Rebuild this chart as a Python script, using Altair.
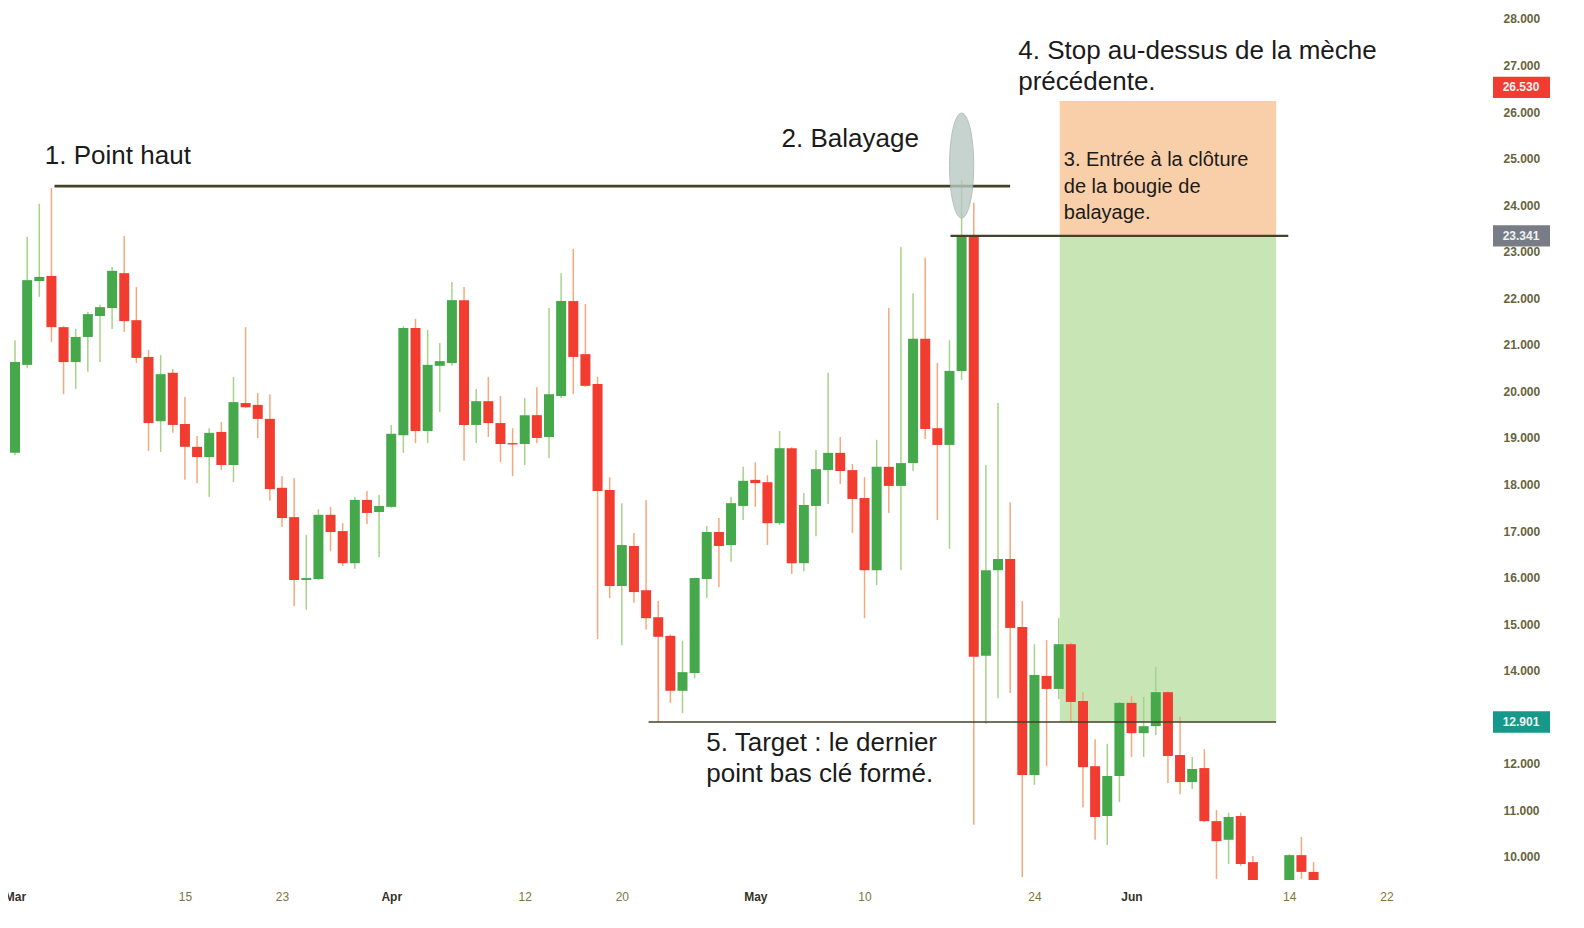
import altair as alt
import pandas as pd

# one candle per calendar day; Jun 12 and Jun 13 sit below the visible price range
days = [d for d in pd.date_range("2022-03-01", "2022-06-16", freq="D")
        if d.strftime("%m-%d") not in ("06-12", "06-13")]

opens = [18.68, 20.57, 22.37, 22.48, 21.38, 20.63, 21.17, 21.62, 21.79, 22.54,
         21.53, 20.74, 19.36, 20.40, 19.30, 18.81, 18.59, 19.13, 18.42, 19.75,
         19.71, 19.41, 17.93, 17.30, 15.95, 15.97, 17.35, 17.00, 16.31, 17.67,
         17.41, 17.52, 19.06, 21.36, 19.15, 20.55, 20.61, 21.96, 19.28, 19.79,
         19.32, 18.89, 18.87, 19.49, 19.02, 19.90, 21.94, 20.80, 20.16, 17.88,
         15.82, 16.68, 15.73, 15.15, 14.75, 13.57, 13.95, 15.97, 16.98, 16.70,
         17.54, 18.10, 18.05, 17.17, 18.78, 16.31, 17.54, 18.31, 18.68, 18.31,
         17.71, 16.16, 18.38, 17.97, 18.46, 21.13, 19.21, 18.85, 20.44, 23.34,
         14.32, 16.16, 16.40, 14.94, 11.76, 13.89, 13.61, 14.57, 13.35, 11.95,
         10.88, 11.74, 13.31, 12.66, 12.81, 13.54, 12.19, 11.61, 11.91, 10.77,
         10.37, 10.88, 9.89, 9.30, 10.04, 9.68]
highs = [21.10, 23.32, 24.03, 24.37, 21.40, 21.34, 21.71, 21.86, 22.67, 23.34,
         22.24, 20.89, 20.78, 20.48, 19.88, 19.04, 19.21, 19.34, 20.31, 21.38,
         19.97, 19.94, 18.18, 18.14, 16.92, 17.47, 17.52, 17.17, 17.73, 17.86,
         17.78, 19.28, 21.40, 21.56, 21.32, 21.04, 22.35, 22.24, 20.05, 20.31,
         19.90, 19.21, 19.86, 20.09, 21.79, 22.54, 23.06, 21.88, 20.31, 18.16,
         17.60, 16.96, 17.67, 15.50, 14.78, 14.64, 16.00, 17.11, 17.28, 17.73,
         18.38, 18.48, 18.20, 19.15, 18.80, 17.82, 18.74, 20.40, 19.02, 18.44,
         18.16, 18.96, 21.79, 23.10, 22.11, 22.87, 20.61, 21.10, 24.54, 24.05,
         18.42, 19.75, 17.62, 15.50, 14.57, 14.66, 15.13, 14.60, 13.54, 12.53,
         12.43, 13.33, 13.46, 13.44, 14.08, 13.56, 13.01, 12.15, 12.32, 11.01,
         10.95, 10.95, 10.02, 10.06, 10.43, 9.89]
lows = [18.63, 20.50, 22.03, 21.06, 19.94, 20.05, 20.42, 20.63, 21.34, 21.28,
        20.61, 18.72, 18.70, 19.11, 18.10, 18.03, 17.73, 18.31, 18.05, 19.64,
        19.00, 17.65, 17.09, 15.39, 15.31, 15.95, 16.57, 16.25, 16.19, 17.15,
        16.44, 17.50, 18.68, 18.89, 18.89, 19.56, 20.55, 18.51, 18.89, 19.02,
        18.48, 18.18, 18.42, 18.89, 18.57, 19.86, 19.94, 20.10, 14.68, 15.56,
        14.55, 15.46, 14.88, 12.90, 13.31, 13.09, 13.84, 15.56, 15.80, 16.34,
        17.24, 17.52, 16.70, 17.13, 16.08, 16.14, 16.89, 17.58, 18.01, 16.96,
        15.13, 15.84, 17.39, 16.16, 18.29, 18.98, 17.24, 16.62, 20.25, 10.69,
        12.86, 13.41, 13.52, 9.57, 11.55, 11.95, 13.39, 12.88, 11.07, 10.37,
        10.26, 11.18, 12.15, 12.15, 12.62, 11.59, 11.35, 11.46, 10.75, 9.53,
        9.85, 9.81, 9.10, 9.20, 9.53, 9.35]
closes = [20.63, 22.39, 22.46, 21.38, 20.63, 21.17, 21.66, 21.81, 22.59, 21.51,
          20.72, 19.32, 20.37, 19.28, 18.81, 18.59, 19.11, 18.42, 19.77, 19.66,
          19.41, 17.90, 17.28, 15.95, 15.99, 17.35, 16.98, 16.31, 17.67, 17.39,
          17.54, 19.09, 21.36, 19.15, 20.57, 20.65, 21.96, 19.28, 19.79, 19.32,
          18.87, 18.86, 19.49, 19.00, 19.94, 21.94, 20.74, 20.12, 17.86, 15.82,
          16.70, 15.69, 15.13, 14.73, 13.57, 13.97, 15.99, 16.98, 16.68, 17.60,
          18.08, 18.03, 17.17, 18.78, 16.31, 17.56, 18.33, 18.68, 18.29, 17.69,
          16.16, 18.38, 17.97, 18.46, 21.13, 19.19, 18.85, 20.44, 23.341, 14.30,
          16.16, 16.40, 14.92, 11.76, 13.91, 13.61, 14.57, 13.33, 11.93, 10.86,
          11.74, 13.31, 12.66, 12.81, 13.54, 12.17, 11.61, 11.89, 10.77, 10.34,
          10.86, 9.85, 9.30, 10.04, 9.68, 9.40]

# 13.000 is hidden behind the 12.901 price tag in the picture
price_ticks = [t for t in range(10, 29) if t != 13]
date_ticks = ["2022-03-01", "2022-03-15", "2022-03-23", "2022-04-01", "2022-04-12",
              "2022-04-20", "2022-05-01", "2022-05-10", "2022-05-24", "2022-06-01",
              "2022-06-14", "2022-06-22"]

# horizontal levels drawn on the chart
levels = ["high", "entry", "target"]
level_price = [24.41, 23.341, 12.901]
level_from = ["2022-03-04T06:00:00", "2022-05-17T02:00:00", "2022-04-22T05:00:00"]
level_to = ["2022-05-22T00:00:00", "2022-06-13T22:00:00", "2022-06-12T22:00:00"]

# short position box: stop zone and profit zone
zones = ["stop", "profit"]
zone_top = [26.24, 23.341]
zone_bottom = [23.341, 12.901]
zone_from = ["2022-05-26T02:00:00", "2022-05-26T02:00:00"]
zone_to = ["2022-06-12T22:00:00", "2022-06-12T22:00:00"]

sweep_when = ["2022-05-18T00:00:00"]
sweep_price = [24.85]

note_text = ["1. Point haut", "2. Balayage", "4. Stop au-dessus de la mèche",
             "précédente.", "5. Target : le dernier", "point bas clé formé."]
note_when = ["2022-03-03T11:00:00", "2022-05-03T04:00:00", "2022-05-22T16:00:00",
             "2022-05-22T16:00:00", "2022-04-26T23:00:00", "2022-04-26T23:00:00"]
note_price = [25.06, 25.42, 27.31, 26.65, 12.45, 11.78]

box_text = ["3. Entrée à la clôture", "de la bougie de", "balayage."]
box_when = ["2022-05-26T10:00:00"] * 3
box_price = [24.97, 24.39, 23.83]

tag_text = ["26.530", "23.341", "12.901"]
tag_price = [26.530, 23.341, 12.901]
tag_colors = ["#f23c31", "#787c86", "#16998a"]

candles = pd.DataFrame({
    "date": [d.strftime("%Y-%m-%dT%H:%M:%S") for d in days],
    "open": opens, "high": highs, "low": lows, "close": closes,
})
level_df = pd.DataFrame({"level": levels, "price": level_price,
                         "start": level_from, "end": level_to})
zone_df = pd.DataFrame({"zone": zones, "top": zone_top, "bottom": zone_bottom,
                        "start": zone_from, "end": zone_to})
sweep_df = pd.DataFrame({"when": sweep_when, "price": sweep_price})
note_df = pd.DataFrame({"text": note_text, "when": note_when, "price": note_price})
box_df = pd.DataFrame({"text": box_text, "when": box_when, "price": box_price})
tag_df = pd.DataFrame({"label": tag_text, "price": tag_price})

axis_font = "Liberation Sans"
note_font = "Liberation Sans"

x_scale = alt.Scale(domain=[alt.DateTime(year=2022, month=2, date=28, hours=20),
                            alt.DateTime(year=2022, month=6, date=30, hours=7)])
y_scale = alt.Scale(domain=[9.506, 28.235], nice=False, zero=False)

is_first = "date(datum.value) == 1"
x_axis = alt.Axis(
    values=[alt.DateTime(year=int(s[:4]), month=int(s[5:7]), date=int(s[8:10]))
            for s in date_ticks],
    labelExpr=f"{is_first} ? timeFormat(datum.value, '%b') : timeFormat(datum.value, '%-d')",
    labelFont=axis_font, labelFontSize=12,
    labelColor={"condition": {"test": is_first, "value": "#34321f"}, "value": "#7a7642"},
    labelFontWeight={"condition": {"test": is_first, "value": "bold"}, "value": "normal"},
    labelPadding=11, labelOverlap=False, labelFlush=False,
    ticks=False, domain=False, grid=False, title=None,
)
y_axis = alt.Axis(
    orient="right", values=price_ticks, format=".3f",
    labelFont=axis_font, labelFontSize=12, labelFontWeight="bold", labelColor="#67633b",
    labelPadding=11, labelOverlap=False,
    ticks=False, domain=False, grid=False, title=None,
)


def X(field):
    return alt.X(field, type="temporal", scale=x_scale, axis=x_axis)


def Y(field):
    return alt.Y(field, type="quantitative", scale=y_scale, axis=y_axis)


rising = "datum.close >= datum.open"

zone_layer = alt.Chart(zone_df).mark_rect().encode(
    x=X("start"), x2="end", y=Y("top"), y2="bottom",
    color=alt.condition("datum.zone == 'profit'", alt.value("#c7e5b5"), alt.value("#f9cfa9")),
)

wick_layer = alt.Chart(candles).mark_rule(strokeWidth=1.5, clip=True).encode(
    x=X("date"), y=Y("low"), y2="high",
    color=alt.condition(rising, alt.value("#a6d38a"), alt.value("#f5a87c")),
)

body_layer = alt.Chart(candles).mark_bar(size=10, clip=True).encode(
    x=X("date"), y=Y("open"), y2="close",
    color=alt.condition(rising, alt.value("#45a84b"), alt.value("#f03d2f")),
)

level_layer = alt.Chart(level_df).mark_rule(color="#43422a").encode(
    x=X("start"), x2="end", y=Y("price"),
    strokeWidth=alt.StrokeWidth("level:O", scale=alt.Scale(domain=levels, range=[2.6, 1.5, 2.2]),
                                legend=None),
)

ellipse = ("M0,-1 C0.127,-1 0.23,-0.552 0.23,0 C0.23,0.552 0.127,1 0,1 "
           "C-0.127,1 -0.23,0.552 -0.23,0 C-0.23,-0.552 -0.127,-1 0,-1 Z")
sweep_layer = alt.Chart(sweep_df).mark_point(
    shape=ellipse, size=11025, filled=True, fill="#b9c9c2", opacity=0.8,
    stroke="#a3b4ad", strokeWidth=1,
).encode(x=X("when"), y=Y("price"))

note_layer = alt.Chart(note_df).mark_text(
    align="left", baseline="middle", font=note_font, fontSize=26, color="#1b1b1b",
).encode(x=X("when"), y=Y("price"), text="text:N")

box_layer = alt.Chart(box_df).mark_text(
    align="left", baseline="middle", font=note_font, fontSize=20, color="#1b1b1b",
).encode(x=X("when"), y=Y("price"), text="text:N")

tag_rect = alt.Chart(tag_df).transform_calculate(
    top="datum.price + 0.23", bottom="datum.price - 0.23",
).mark_rect().encode(
    x=alt.value(1485), x2=alt.value(1542), y=Y("top:Q"), y2="bottom:Q",
    color=alt.Color("label:N", scale=alt.Scale(domain=tag_text, range=tag_colors), legend=None),
)
tag_label = alt.Chart(tag_df).mark_text(
    align="center", baseline="middle", font=axis_font, fontSize=12, fontWeight="bold",
    color="#eef3f2",
).encode(x=alt.value(1513), y=Y("price"), text="label:N")

chart = alt.layer(
    zone_layer, wick_layer, body_layer, level_layer, sweep_layer,
    note_layer, box_layer, tag_rect, tag_label,
).properties(
    width=1484, height=872,
    autosize=alt.AutoSizeParams(type="none"),
    padding={"left": 0, "top": 0, "right": 70, "bottom": 25},
    background="white",
).configure_view(stroke=None)

chart.save("out.html", embed_options={"renderer": "svg", "actions": False})
